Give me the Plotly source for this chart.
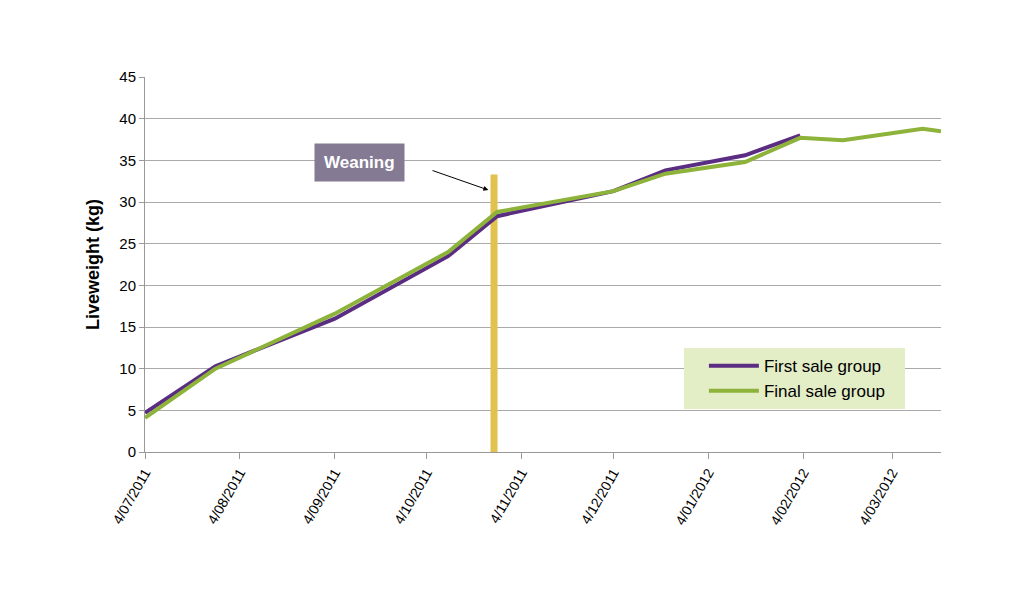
import plotly.graph_objects as go

first_dates = ["2011-07-04","2011-07-27","2011-09-04","2011-10-11","2011-10-27","2011-12-04","2011-12-21","2012-01-16","2012-02-03"]
first_vals = [4.7,10.3,16.0,23.5,28.3,31.3,33.8,35.6,38.0]
final_dates = ["2011-07-04","2011-07-27","2011-09-04","2011-10-11","2011-10-27","2011-12-04","2011-12-21","2012-01-16","2012-02-03","2012-02-17","2012-03-14","2012-03-20"]
final_vals = [4.1,10.0,16.6,24.0,28.8,31.3,33.4,34.8,37.7,37.4,38.8,38.5]
weaning_date = "2011-10-26"
weaning_top = 33.3
tick_dates = ["2011-07-04","2011-08-04","2011-09-04","2011-10-04","2011-11-04","2011-12-04","2012-01-04","2012-02-04","2012-03-04"]
tick_labels = ["4/07/2011","4/08/2011","4/09/2011","4/10/2011","4/11/2011","4/12/2011","4/01/2012","4/02/2012","4/03/2012"]

fig = go.Figure()
fig.add_trace(go.Scatter(x=[weaning_date, weaning_date], y=[0, weaning_top], mode="lines",
                         line=dict(color="#E2C24E", width=7), showlegend=False))
fig.add_trace(go.Scatter(x=first_dates, y=first_vals, mode="lines", name="First sale group   ",
                         line=dict(color="#5B2D82", width=4)))
fig.add_trace(go.Scatter(x=final_dates, y=final_vals, mode="lines", name="Final sale group   ",
                         line=dict(color="#8DB33A", width=4)))

fig.add_annotation(x=weaning_date, y=31.2, ax=-63, ay=-22, axref="pixel", ayref="pixel",
                   showarrow=True, arrowhead=2, arrowsize=1, arrowwidth=1, arrowcolor="black",
                   text="", standoff=6)
fig.add_annotation(x=0.27, xref="paper", xanchor="center", y=34.7, yref="y", text="<b>Weaning</b>",
                   showarrow=False, bgcolor="#857A93",
                   font=dict(color="white", size=17, family="Liberation Sans"), borderpad=9)

fig.update_layout(
    width=1024, height=607, plot_bgcolor="white", paper_bgcolor="white",
    margin=dict(l=137, r=91, t=69, b=163),
    font=dict(family="Liberation Sans", size=14, color="black"),
    legend=dict(x=0.677, y=0.277, xanchor="left", yanchor="top", bgcolor="#E3EDC6",
                font=dict(size=17), borderwidth=0, tracegroupgap=6, itemwidth=50,
                indentation=20),
)
fig.update_xaxes(range=["2011-07-04","2012-03-20"], tickvals=tick_dates, ticktext=tick_labels,
                 tickangle=-60, showgrid=False, showline=True, linecolor="#999", ticks="outside",
                 tickcolor="#999", ticklen=6, tickfont=dict(size=14))
fig.update_yaxes(range=[0,45], dtick=5, showgrid=True, gridcolor="#AAAAAA", showline=True,
                 linecolor="#999", ticks="outside", tickcolor="#999", tickfont=dict(size=15),
                 title=dict(text="<b>Liveweight (kg)</b>", font=dict(size=18)), zeroline=False)
fig.write_html("out.html")
